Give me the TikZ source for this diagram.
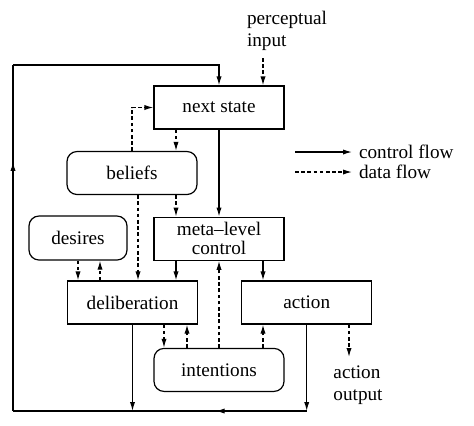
\documentclass[tikz,border=0pt]{standalone}
\usepackage{fontspec}
\setmainfont{Liberation Serif}
\usetikzlibrary{arrows.meta,positioning,decorations.markings}

\begin{document}
\begin{tikzpicture}[x=0.5pt,y=-0.5pt,node distance=43.5pt,
  >={Latex[length=4.5pt,width=2.6pt]},
  font=\fontsize{9.6}{11}\selectfont,
  box/.style={draw,line width=0.6pt,minimum width=65pt,minimum height=21.5pt,inner sep=1pt,align=center},
  store/.style={box,rounded corners=5pt},
  ctrl/.style={->,line width=0.6pt},
  data/.style={->,line width=0.6pt,dash pattern=on 1.8pt off 1.3pt},
  midarrow/.style={postaction={decorate},decoration={markings,mark=at position #1 with {\arrow{Latex[length=4.5pt,width=2.6pt]}}}}]
\useasboundingbox (0,0) rectangle (474,425);

% boxes
\node[box] (next) at (219,107.5) {next state};
\node[box,below=of next] (meta) {meta--level\\[-1.5pt]control};
\node[store,below=of meta] (int) {intentions};
\node[store] (bel) at (132,173) {beliefs};
\node[store,minimum width=49pt,minimum height=22pt] (des) at (78,238) {desires};
\node[box] (delib) at (132.5,302.5) {deliberation};
\node[box,right=21.5pt of delib] (act) {action};

% outside texts
\node[align=left] (percept) at (287,31) {perceptual\\input};
\node[align=left] (outtxt) at (358,385) {action\\output};
\coordinate (pin) at (263,58);
\coordinate (aout) at (349,357);

% legend
\node[anchor=west] (lctrl) at (352,152) {control flow};
\node[anchor=west] (ldata) at (352,172) {data flow};
\coordinate (lc) at (295,152);
\coordinate (ld) at (295,172);
\draw[ctrl] (lc) -- (lctrl.west);
\draw[data] (ld) -- (ldata.west);

% control flow
\draw[ctrl] (next) -- (meta);
\draw[ctrl] (meta.south -| 176,0) -- (delib.north -| 176,0);
\draw[ctrl] (meta.south -| 263,0) -- (act.north -| 263,0);

% data flow
\draw[data] (pin) -- (pin |- next.north);
\draw[data] (next.south -| 176,0) -- (bel.north -| 176,0);
\draw[data] (bel.north) |- (next.west);
\draw[data] (bel.south -| 176,0) -- (meta.north -| 176,0);
\draw[data] (bel.south -| 138,0) -- (delib.north -| 138,0);
\draw[data] (des.south) -- (des.south |- delib.north);
\draw[data] (delib.north -| 100,0) -- (des.south -| 100,0);
\draw[data] (delib.south -| 164,0) -- (int.north -| 164,0);
\draw[data] (int.north -| 187,0) -- (delib.south -| 187,0);
\draw[data] (int) -- (meta);
\draw[data] (int.north -| 263,0) -- (act.south -| 263,0);
\draw[data] (act.south -| aout) -- (aout);

% loop back
\coordinate (bot) at (13,411);
\coordinate (top) at (13,65);
\draw[ctrl] (delib.south) -- (delib.south |- bot);
\draw[ctrl] (act.south) -- (act.south |- bot);
\draw[line width=0.6pt,midarrow=0.31] (act.south |- bot) -- (bot);
\draw[line width=0.6pt,midarrow=0.72] (bot) -- (top);
\draw[ctrl] (top) -| (next.north);
\end{tikzpicture}
\end{document}
